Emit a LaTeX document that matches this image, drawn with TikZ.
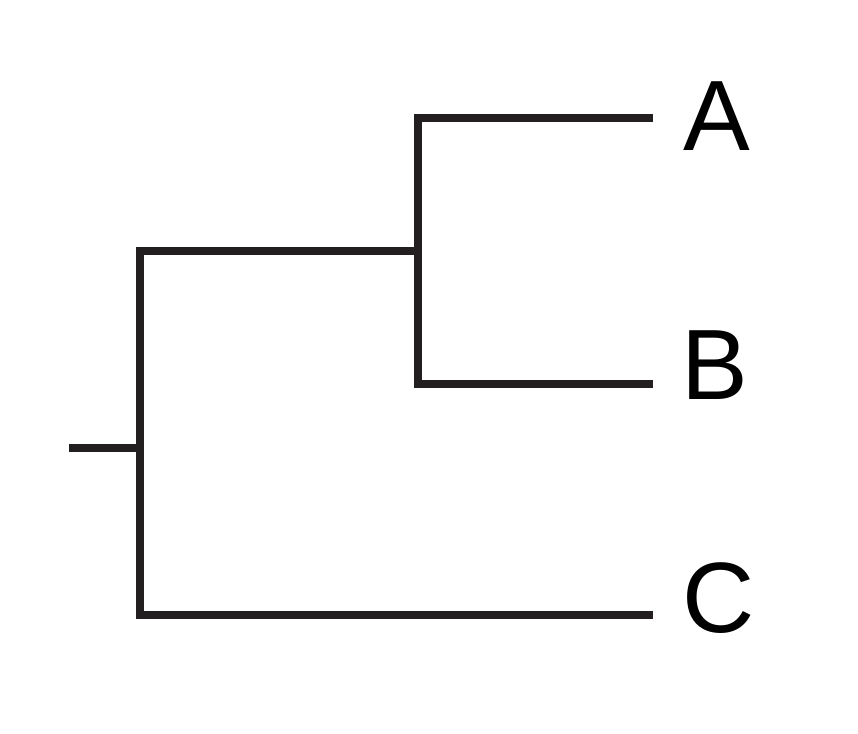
\documentclass[tikz,border=0pt]{standalone}
\usepackage{fontspec}
\setmainfont{Liberation Sans}
\definecolor{branch}{HTML}{231F20}
\begin{document}
\begin{tikzpicture}[x=1pt,y=-1pt,
  edge/.style={draw=branch,line width=8pt,line cap=butt},
  leaf/.style={anchor=base west,inner sep=0pt,font=\fontsize{100}{100}\selectfont}]
\useasboundingbox (0,0) rectangle (858,733);
% internal nodes
\coordinate (root) at (69,448);
\coordinate (n1) at (140,448);
\coordinate (n2) at (418,251);
% leaf ends
\coordinate (eA) at (653,118);
\coordinate (eB) at (653,383.5);
\coordinate (eC) at (653,615);
% labels
\node[leaf] (A) at (683,150) {A};
\node[leaf] (B) at (681,399) {B};
\node[leaf] (C) at (682,632) {C};
% branches
\draw[edge] (root) -- (n1);
\draw[edge] ([yshift=4pt]n1 |- n2) -- ([yshift=-4pt]n1 |- eC);
\draw[edge] (n1 |- n2) -- (n2);
\draw[edge] ([yshift=4pt]n2 |- eA) -- ([yshift=-4pt]n2 |- eB);
\draw[edge] (n2 |- eA) -- (eA);
\draw[edge] (n2 |- eB) -- (eB);
\draw[edge] (n1 |- eC) -- (eC);
\end{tikzpicture}
\end{document}
